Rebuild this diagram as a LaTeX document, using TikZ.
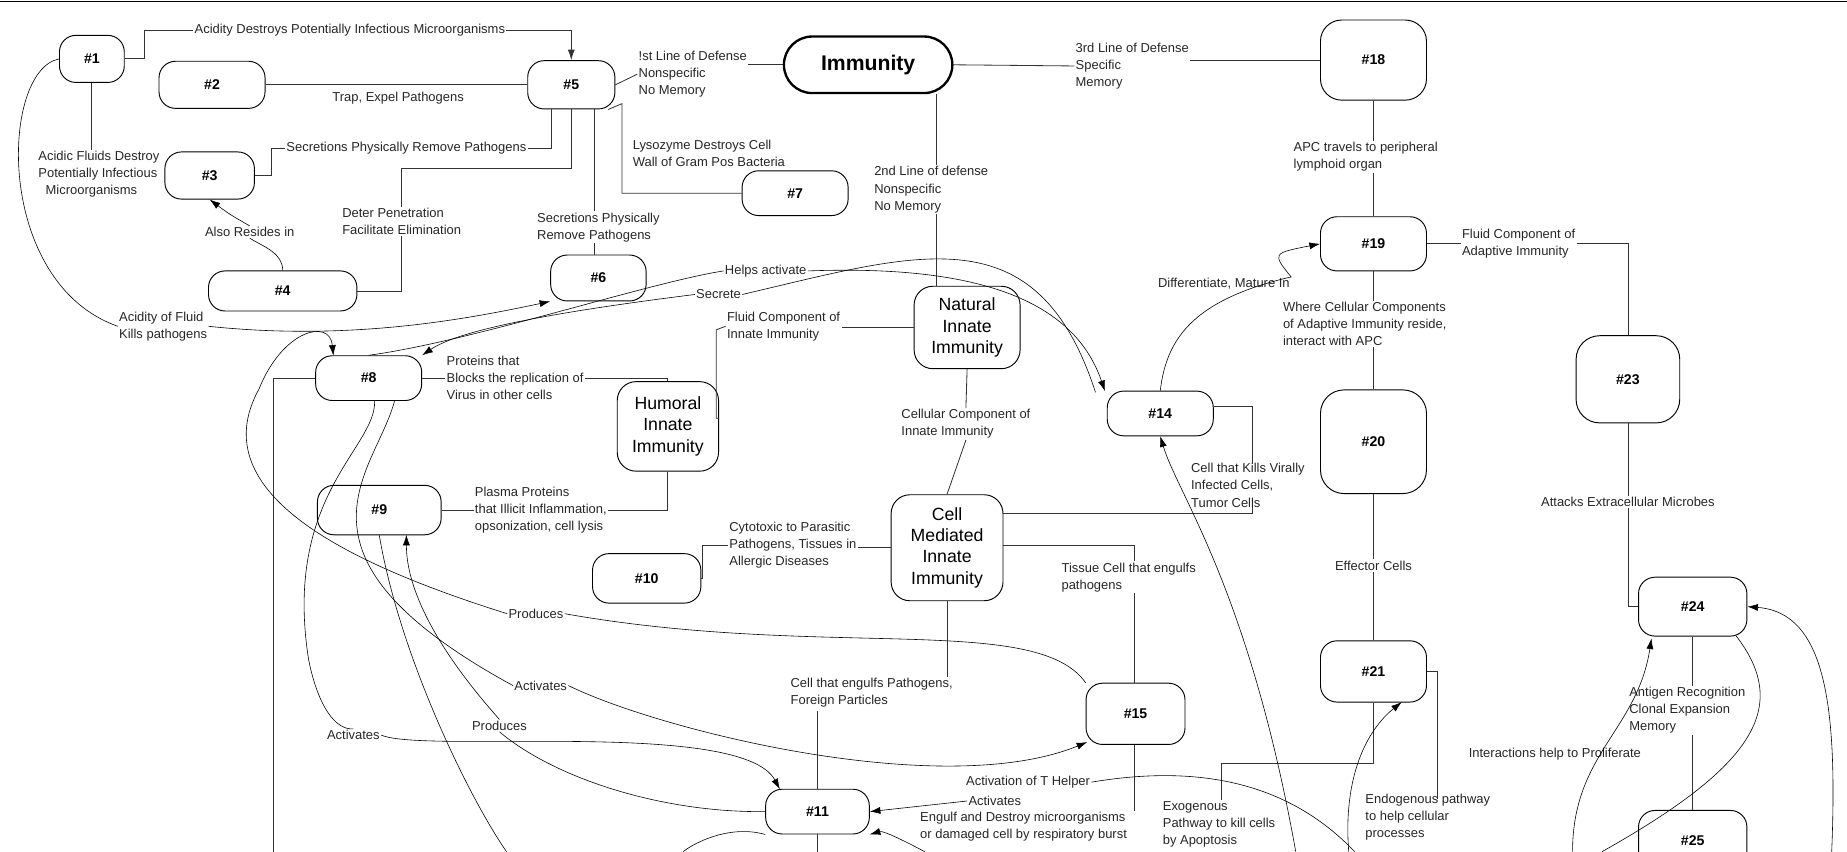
\documentclass[tikz,border=0pt]{standalone}
\usepackage{fontspec}
\setmainfont{Liberation Sans}
\usetikzlibrary{arrows.meta}
\begin{document}
\begin{tikzpicture}[x=1pt,y=-1pt,
 box/.style={draw,line width=0.8pt,rounded corners=14pt,font=\fontsize{12}{14}\selectfont\bfseries,inner sep=0pt},
 big/.style={draw,line width=0.8pt,rounded corners=16pt,font=\fontsize{15}{18}\selectfont,align=center,inner sep=0pt},
 lbl/.style={font=\fontsize{11}{14.5}\selectfont,align=left,text=black!85,inner sep=1pt},
 ln/.style={draw=black!80,line width=0.7pt},
 cv/.style={draw=black,line width=0.5pt},
 ar/.style={-{Latex[length=9pt,width=6pt]}}]
\useasboundingbox (0,0) rectangle (1568,723);
\clip (0,0) rectangle (1568,723);
\draw[line width=1pt] (0,1.5) -- (1568,1.5);
% nodes
\node[box,minimum width=55pt,minimum height=40pt] (n1) at (78,50) {\#1};
\node[box,minimum width=90pt,minimum height=40pt] (n2) at (180,72) {\#2};
\node[box,minimum width=74pt,minimum height=41pt] (n5) at (485,72) {\#5};
\node[box,minimum width=76pt,minimum height=40pt] (n3) at (178,149) {\#3};
\node[box,minimum width=126pt,minimum height=34pt] (n4) at (240,247) {\#4};
\node[box,minimum width=81pt,minimum height=39pt] (n6) at (508,236) {\#6};
\node[box,minimum width=90pt,minimum height=38pt] (n7) at (675,164) {\#7};
\node[draw,line width=2pt,rounded corners=24pt,minimum width=143pt,minimum height=48pt,font=\fontsize{18}{20}\selectfont\bfseries] (imm) at (737,55) {Immunity};
\node[box,rounded corners=18pt,minimum width=90pt,minimum height=68pt] (n18) at (1166,51) {\#18};
\node[box,minimum width=90pt,minimum height=46pt] (n19) at (1166,207) {\#19};
\node[box,rounded corners=20pt,minimum width=90pt,minimum height=88pt] (n20) at (1166,375) {\#20};
\node[box,rounded corners=20pt,minimum width=88pt,minimum height=74pt] (n23) at (1382,322) {\#23};
\node[box,minimum width=92pt,minimum height=50pt] (n24) at (1437,515) {\#24};
\node[box,minimum width=92pt,minimum height=52pt] (n25) at (1437,714) {\#25};
\node[big,minimum width=90pt,minimum height=70pt] (nat) at (821,278) {Natural\\Innate\\Immunity};
\node[big,minimum width=86pt,minimum height=76pt] (hum) at (567,362) {Humoral\\Innate\\Immunity};
\node[big,minimum width=95pt,minimum height=90pt] (cmi) at (804,465) {Cell\\Mediated\\Innate\\Immunity};
\node[box,minimum width=90pt,minimum height=38pt] (n8) at (313,321) {\#8};
\node[box,minimum width=105pt,minimum height=42pt] (n9) at (322,433) {\#9};
\node[box,minimum width=92pt,minimum height=42pt] (n10) at (549,491) {\#10};
\node[box,minimum width=90pt,minimum height=38pt] (n14) at (985,351) {\#14};
\node[box,minimum width=84pt,minimum height=52pt] (n15) at (964,606) {\#15};
\node[box,minimum width=88pt,minimum height=38pt] (n11) at (694,689) {\#11};
\node[box,minimum width=90pt,minimum height=52pt] (n21) at (1166,570) {\#21};
% labels
\node[lbl] (lA) at (297,26) {Acidity Destroys Potentially Infectious Microorganisms};
\node[lbl] (lB) at (84,148) {Acidic Fluids Destroy\\Potentially Infectious\\\ \ Microorganisms};
\node[lbl] (lC) at (338,83) {Trap, Expel Pathogens};
\node[lbl] (lD) at (345,126) {Secretions Physically Remove Pathogens};
\node[lbl] (lE) at (341,188) {Deter Penetration\\Facilitate Elimination};
\node[lbl] (lF) at (212,197) {Also Resides in};
\node[lbl] (lG) at (508,193) {Secretions Physically\\Remove Pathogens};
\node[lbl,anchor=west] (lH) at (536,130) {Lysozyme Destroys Cell\\Wall of Gram Pos Bacteria};
\node[lbl,anchor=west] (lI) at (541,63) {!st Line of Defense\\Nonspecific\\No Memory};
\node[lbl,anchor=west] (lJ) at (912,56) {3rd Line of Defense\\Specific\\Memory};
\node[lbl,anchor=west] (lK) at (741,161) {2nd Line of defense\\Nonspecific\\No Memory};
\node[lbl,anchor=west] (lL) at (1097,133) {APC travels to peripheral\\lymphoid organ};
\node[lbl,anchor=west] (lM) at (1240,207) {Fluid Component of\\Adaptive Immunity};
\node[lbl,anchor=west] (lN) at (1088,275) {Where Cellular Components\\of Adaptive Immunity reside,\\interact with APC};
\node[lbl] (lO) at (1039,241) {Differentiate, Mature In};
\node[lbl] (lP) at (650,230) {Helps activate};
\node[lbl] (lQ) at (610,250) {Secrete};
\node[lbl,anchor=west] (lR) at (100,277) {Acidity of Fluid\\Kills pathogens};
\node[lbl,anchor=west] (lS) at (616,277) {Fluid Component of\\Innate Immunity};
\node[lbl,anchor=west] (lT) at (378,321) {Proteins that\\Blocks the replication of\\Virus in other cells};
\node[lbl] (lU) at (820,360) {Cellular Component of\\Innate Immunity};
\node[lbl,anchor=west] (lV) at (1010,412) {Cell that Kills Virally\\Infected Cells,\\Tumor Cells};
\node[lbl,anchor=west] (lW) at (402,433) {Plasma Proteins\\that Illicit Inflammation,\\opsonization, cell lysis};
\node[lbl,anchor=west] (lX) at (618,463) {Cytotoxic to Parasitic\\Pathogens, Tissues in\\Allergic Diseases};
\node[lbl,anchor=west] (lY) at (900,490) {Tissue Cell that engulfs\\pathogens};
\node[lbl] (lZ) at (1166,480) {Effector Cells};
\node[lbl] (la) at (1382,426) {Attacks Extracellular Microbes};
\node[lbl] (lb) at (455,521) {Produces};
\node[lbl] (lc) at (459,582) {Activates};
\node[lbl,anchor=west] (ld) at (670,588) {Cell that engulfs Pathogens,\\Foreign Particles};
\node[lbl] (le) at (300,624) {Activates};
\node[lbl] (lf) at (424,616) {Produces};
\node[lbl,anchor=west] (lg) at (1382,603) {Antigen Recognition\\Clonal Expansion\\Memory};
\node[lbl] (lh) at (1320,640) {Interactions help to Proliferate};
\node[lbl,anchor=west] (li) at (819,664) {Activation of T Helper};
\node[lbl,anchor=west] (lj) at (821,680) {Activates};
\node[lbl,anchor=west] (lk) at (780,702) {Engulf and Destroy microorganisms\\or damaged cell by respiratory burst};
\node[lbl,anchor=west] (ll) at (986,700) {Exogenous\\Pathway to kill cells\\by Apoptosis};
\node[lbl,anchor=west] (lm) at (1158,694) {Endogenous pathway\\to help cellular\\processes};
\coordinate (b1) at (232,723);
\coordinate (b2) at (430,723);
\coordinate (b3) at (1100,723);
\coordinate (b4) at (1145,723);
\coordinate (b5) at (1335,723);
\coordinate (b6) at (1555,723);
\coordinate (b7) at (1360,723);
\coordinate (b8) at (694,723);
\coordinate (b9) at (580,723);
\coordinate (b10) at (785,723);
\coordinate (b12) at (1150,723);
% straight connectors
\draw[ln] (n1.east) -- (123,50) |- (lA.west);
\draw[ln,ar] (lA.east) -| (n5.north);
\draw[ln] (n1.south) -- (lB.north -| n1);
\draw[ln] (n2.east) -- (n5.west);
\draw[ln] (n5.south -| 468,0) |- (lD.east);
\draw[ln] (lD.west) -- ++(-12,0) |- (n3.east);
\draw[ln] (n5.south) |- (341,143) -- (lE.north);
\draw[ln] (lE.south) |- (n4.east);
\draw[ln] (n5.south -| 505,0) -- (lG.north -| 505,0);
\draw[ln] (lG.south -| 505,0) -- (n6.north -| 505,0);
\draw[ln] (n5.south east) ++(-6,0) -- (528,88) |- (n7.west);
\draw[ln] (n5.east) -- (lI.west);
\draw[ln] (lI.east |- imm.west) -- (imm.west);
\draw[ln] (imm.east) -- (lJ.west);
\draw[ln] (lJ.east |- n18.west) -- (n18.west);
\draw[ln] (imm.south -| 795,0) -- (lK.north -| 795,0);
\draw[ln] (lK.south -| 795,0) -- (nat.north -| 795,0);
\draw[ln] (n18.south) -- (lL.north -| n18);
\draw[ln] (lL.south -| n18) -- (n19.north);
\draw[ln] (n19.east) -- (lM.west |- n19.east);
\draw[ln] (lM.east |- n19.east) -| (n23.north);
\draw[ln] (n19.south) -- (lN.north -| n19);
\draw[ln] (lN.south -| n19) -- (n20.north);
\draw[ln] (n20.south) -- (lZ.north);
\draw[ln] (lZ.south) -- (n21.north);
\draw[ln] (n23.south) -- (la.north);
\draw[ln] (la.south) |- (n24.west);
\draw[ln] (n24.south) -- (lg.north -| n24);
\draw[ln] (lg.south -| n24) -- (n25.north);
\draw[ln] (nat.west) -- (lS.east |- nat.west);
\draw[ln] (lS.west) -- (608,280) -- (608,355) -- (hum.east |- 0,355);
\draw[ln] (n8.east) -- (lT.west);
\draw[ln] (lT.east) -| (hum.north);
\draw[ln] (hum.south) |- (lW.east);
\draw[ln] (lW.west) -- (n9.east);
\draw[ln] (cmi.west) -- (lX.east |- cmi.west);
\draw[ln] (lX.west) -- (596,463) |- (n10.east);
\draw[ln] (nat.south) -- (lU.north);
\draw[ln] (lU.south) -- (cmi.north);
\draw[ln] (cmi.east |- 0,436) -| (1063,430);
\draw[ln] (1063,394) |- (n14.east |- 0,345);
\draw[ln] (cmi.east |- 0,463) -| (963,476);
\draw[ln] (lY.south -| 963,0) -- (n15.north -| 963,0);
\draw[ln] (cmi.south) -- (804,575);
\draw[ln] (694,604) -- (n11.north);
\draw[ln] (n15.south -| 963,0) -- (lk.north -| 963,0);
\draw[ln] (n11.south) -- (b8);
\draw[ln] (n8.west) -| (b1);
\draw[ln] (n21.south) |- (1037,648) -- (ll.north -| 1037,0);
\draw[ln] (n21.east) -| (1220,678);
% curves
\draw[cv] (n1.west) .. controls (0,60) and (-5,240) .. (lR.west);
\draw[cv,ar] (lR.east) .. controls (300,290) and (400,270) .. (n6.south west);
\draw[cv,ar] (n4.north) .. controls (240,215) and (225,210) .. (lF.south) (lF.north) .. controls (195,182) .. (n3.south);
\draw[cv] (n8.north) .. controls (400,290) and (550,240) .. (lP.west);
\draw[cv,ar] (lP.east) .. controls (820,225) and (910,250) .. (938,332);
\draw[cv] (930,333) .. controls (880,180) and (780,215) .. (lQ.east);
\draw[cv,ar] (lQ.west) .. controls (470,265) and (390,280) .. (n8.north east);
\draw[cv,ar] (n14.north) .. controls (990,290) and (1010,255) .. (lO.north east) .. controls (1080,215) .. (n19.west);
\draw[cv,ar] (b3) .. controls (1060,500) and (1000,420) .. (n14.south);
\draw[cv,ar] (b4) .. controls (1140,660) and (1160,620) .. (1190,596);
\draw[cv] (n15.north west) .. controls (880,520) and (700,560) .. (lb.east);
\draw[cv,ar] (lb.west) .. controls (300,480) and (170,420) .. (220,330) .. controls (240,280) and (280,270) .. (283,302);
\draw[cv] (335,340) .. controls (320,400) and (230,470) .. (lc.west);
\draw[cv,ar] (lc.east) .. controls (560,620) and (800,680) .. (923,630);
\draw[cv] (318,340) .. controls (320,380) and (240,420) .. (262,560) .. controls (270,600) and (285,620) .. (le.north);
\draw[cv,ar] (le.east) .. controls (360,640) and (630,610) .. (662,670);
\draw[cv] (n9.south) .. controls (340,560) and (400,680) .. (b2);
\draw[cv,ar] (lf.north) .. controls (370,550) and (345,500) .. (345,454);
\draw[cv] (n11.west) .. controls (560,690) and (470,660) .. (lf.south);
\draw[cv,ar] (lj.west) -- (n11.east);
\draw[cv] (li.east) .. controls (1010,650) and (1090,660) .. (b12);
\draw[cv] (n11.south west) .. controls (620,700) and (590,715) .. (b9);
\draw[cv,ar] (b10) .. controls (770,715) and (750,705) .. (n11.south east);
\draw[cv,ar] (b5) .. controls (1335,640) and (1390,620) .. (1402,542);
\draw[cv,ar] (b6) .. controls (1560,600) and (1550,520) .. (n24.east);
\draw[cv] (1474,540) .. controls (1520,600) and (1490,650) .. (b7);
\end{tikzpicture}
\end{document}
